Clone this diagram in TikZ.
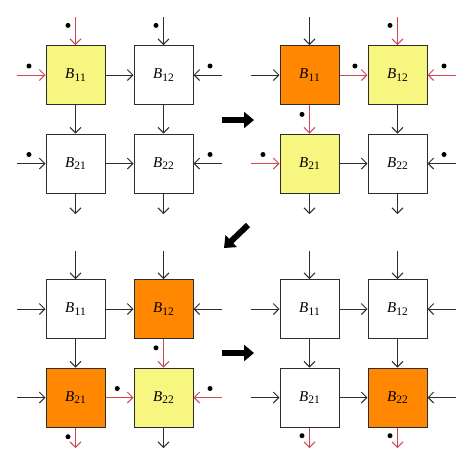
\documentclass[tikz,border=0pt]{standalone}
\usepackage{fontspec}
\setmainfont{Liberation Serif}
\usetikzlibrary{arrows.meta}
\definecolor{yel}{RGB}{246,246,128}
\definecolor{org}{RGB}{255,136,0}
\definecolor{redc}{RGB}{208,70,84}
\definecolor{edge}{RGB}{45,45,45}
\newcommand{\blab}[1]{\textit{B}\kern0.3pt\raisebox{-0.4ex}{\fontsize{11.5}{12}\selectfont #1}}
\tikzset{
  blk/.style={draw=edge, line width=1pt, minimum width=59pt, minimum height=59pt, inner sep=0pt, font=\fontsize{15}{16}\selectfont},
  conn/.style={draw=edge, line width=1pt, -{Straight Barb[length=5.5pt,width=11pt,line width=1pt]}},
  rconn/.style={conn, draw=redc},
  dotv/.style={circle, fill=black, inner sep=0pt, minimum size=5pt, pos=#1, xshift=-7.5pt},
  dotv/.default=0.3,
  doth/.style={circle, fill=black, inner sep=0pt, minimum size=5pt, pos=#1, yshift=9pt},
  doth/.default=0.42,
  bigarr/.style={line width=6pt, -{Triangle[length=10pt,width=16pt]}},
}
\newcommand{\panel}[7]{%
  % #1 name, #2 ox, #3 oy, #4..#7 fills of b11 b12 b21 b22
  \node[blk, fill=#4] (#1b11) at (#2+75.5,#3+75) {\blab{11}};
  \node[blk, fill=#5] (#1b12) at (#2+163.5,#3+75) {\blab{12}};
  \node[blk, fill=#6] (#1b21) at (#2+75.5,#3+163.5) {\blab{21}};
  \node[blk, fill=#7] (#1b22) at (#2+163.5,#3+163.5) {\blab{22}};
  \coordinate (#1t1) at (#2+75.5,#3+17);
  \coordinate (#1t2) at (#2+163.5,#3+17);
  \coordinate (#1l1) at (#2+17,#3+75);
  \coordinate (#1l2) at (#2+17,#3+163.5);
  \coordinate (#1r1) at (#2+222,#3+75);
  \coordinate (#1r2) at (#2+222,#3+163.5);
  \coordinate (#1o1) at (#2+75.5,#3+214);
  \coordinate (#1o2) at (#2+163.5,#3+214);
}
\begin{document}
\begin{tikzpicture}[x=1pt,y=-1pt]
\useasboundingbox (0,0) rectangle (474,467);
\fill[white] (0,0) rectangle (474,467);

% Panel 1
\panel{a}{0}{0}{yel}{white}{white}{white}
\draw[rconn] (at1) -- node[dotv]{} (ab11);
\draw[rconn] (al1) -- node[doth]{} (ab11);
\draw[conn] (at2) -- node[dotv]{} (ab12);
\draw[conn] (ar1) -- node[doth]{} (ab12);
\draw[conn] (al2) -- node[doth]{} (ab21);
\draw[conn] (ar2) -- node[doth]{} (ab22);
\draw[conn] (ab11) -- (ab12);
\draw[conn] (ab11) -- (ab21);
\draw[conn] (ab12) -- (ab22);
\draw[conn] (ab21) -- (ab22);
\draw[conn] (ab21) -- (ao1);
\draw[conn] (ab22) -- (ao2);

% Panel 2
\panel{b}{234}{0}{org}{yel}{yel}{white}
\draw[conn] (bt1) -- (bb11);
\draw[conn] (bl1) -- (bb11);
\draw[rconn] (bt2) -- node[dotv]{} (bb12);
\draw[rconn] (br1) -- node[doth]{} (bb12);
\draw[rconn] (bl2) -- node[doth]{} (bb21);
\draw[conn] (br2) -- node[doth]{} (bb22);
\draw[rconn] (bb11) -- node[doth=0.55]{} (bb12);
\draw[rconn] (bb11) -- node[dotv=0.33]{} (bb21);
\draw[conn] (bb12) -- (bb22);
\draw[conn] (bb21) -- (bb22);
\draw[conn] (bb21) -- (bo1);
\draw[conn] (bb22) -- (bo2);

% Panel 3
\panel{c}{0}{234}{white}{org}{org}{yel}
\draw[conn] (ct1) -- (cb11);
\draw[conn] (cl1) -- (cb11);
\draw[conn] (ct2) -- (cb12);
\draw[conn] (cr1) -- (cb12);
\draw[conn] (cl2) -- (cb21);
\draw[rconn] (cr2) -- node[doth]{} (cb22);
\draw[conn] (cb11) -- (cb12);
\draw[conn] (cb11) -- (cb21);
\draw[rconn] (cb12) -- node[dotv=0.31]{} (cb22);
\draw[rconn] (cb21) -- node[doth]{} (cb22);
\draw[rconn] (cb21) -- node[dotv=0.45]{} (co1);
\draw[conn] (cb22) -- (co2);

% Panel 4
\panel{d}{234}{234}{white}{white}{white}{org}
\draw[conn] (dt1) -- (db11);
\draw[conn] (dl1) -- (db11);
\draw[conn] (dt2) -- (db12);
\draw[conn] (dr1) -- (db12);
\draw[conn] (dl2) -- (db21);
\draw[conn] (dr2) -- (db22);
\draw[conn] (db11) -- (db12);
\draw[conn] (db11) -- (db21);
\draw[conn] (db12) -- (db22);
\draw[conn] (db21) -- (db22);
\draw[rconn] (db21) -- node[dotv=0.4]{} (do1);
\draw[rconn] (db22) -- node[dotv=0.4]{} (do2);

% transition arrows
\coordinate (m1s) at (222,120);
\coordinate (m1e) at (254,120);
\coordinate (m2s) at (248,225);
\coordinate (m2e) at (224,248);
\coordinate (m3s) at (222,353);
\coordinate (m3e) at (254,353);
\draw[bigarr] (m1s) -- (m1e);
\draw[bigarr] (m2s) -- (m2e);
\draw[bigarr] (m3s) -- (m3e);
\end{tikzpicture}
\end{document}
